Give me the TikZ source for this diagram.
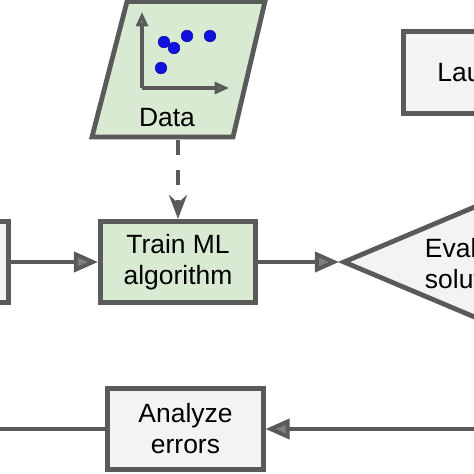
\documentclass[tikz,border=0pt]{standalone}
\usepackage{fontspec}
\setmainfont{Liberation Sans}
\usetikzlibrary{arrows.meta,positioning,calc}
\definecolor{edgecol}{HTML}{5A5A5A}
\definecolor{tipcol}{HTML}{7E7E7E}
\definecolor{greenfill}{HTML}{D9EAD3}
\definecolor{greyfill}{HTML}{F3F3F3}
\definecolor{dotcol}{HTML}{1212E0}
\tikzset{
  stepbox/.style={draw=edgecol,line width=0.12cm,minimum width=3.88cm,minimum height=2.03cm,align=center,font=\fontsize{18.8}{22}\selectfont},
  flow/.style={-{Triangle[length=0.6cm,width=0.5cm,fill=tipcol]},draw=edgecol,line width=0.1cm},
  link/.style={draw=edgecol,line width=0.1cm},
  feed/.style={-{Stealth[length=0.6cm,width=0.45cm,inset=0.2cm]},draw=edgecol,line width=0.11cm,dash pattern=on 0.375cm off 0.375cm},
  axis/.style={-{Triangle[length=0.36cm,width=0.3cm,fill=tipcol]},draw=edgecol,line width=0.08cm},
  dot/.style={circle,fill=dotcol,draw=dotcol!70!black,thin,inner sep=0pt,minimum size=0.29cm},
}

\begin{document}
\begin{tikzpicture}[x=0.025cm,y=-0.025cm]
  \useasboundingbox (0,0) rectangle (474,474);
  % data input
  \draw[draw=edgecol,fill=greenfill,line width=0.12cm] (127,1.5) -- (265,1.5) -- (233,137) -- (92,137) -- cycle;
  \coordinate (origin) at (142,88);
  \draw[axis] (origin) -- (142,12);
  \draw[axis] (origin) -- (229,88);
  \foreach \x/\y [count=\i] in {164/42,174/48,187/36,210/36,161/68}
    \node[dot] (dot\i) at (\x,\y) {};
  \node[font=\fontsize{18.8}{22}\selectfont] (data) at (167,117.5) {Data};
  \coordinate (datafoot) at (178,140);
  % steps
  \node[stepbox,fill=greyfill,anchor=east] (study) at (11,262) {};
  \node[stepbox,fill=greenfill] (train) at (178,262) {Train ML\\algorithm};
  \node[stepbox,fill=greyfill,anchor=west,inner xsep=0.85cm] (launch) at (401,72.5) {Launch!};
  \node[stepbox,fill=greyfill] (analyze) at (185.5,429) {Analyze\\errors};
  % evaluate
  \coordinate (evaltip) at (344,262);
  \coordinate (evalin) at (339,262);
  \draw[draw=edgecol,fill=greyfill,line width=0.12cm] (560,171) -- (evaltip) -- (560,353);
  \node[anchor=west,align=left,font=\fontsize{18.8}{22}\selectfont] (eval) at (420,264) {Evaluate\\solution};
  \coordinate (errin) at (480,429);
  \coordinate (errout) at (-10,429);
  % connectors
  \draw[feed] (datafoot) -- (train.north);
  \draw[flow] (study.east) -- (train.west);
  \draw[flow] (train.east) -- (evalin);
  \draw[flow] (errin) -- (analyze.east);
  \draw[link] (analyze.west) -- (errout);
\end{tikzpicture}
\end{document}
